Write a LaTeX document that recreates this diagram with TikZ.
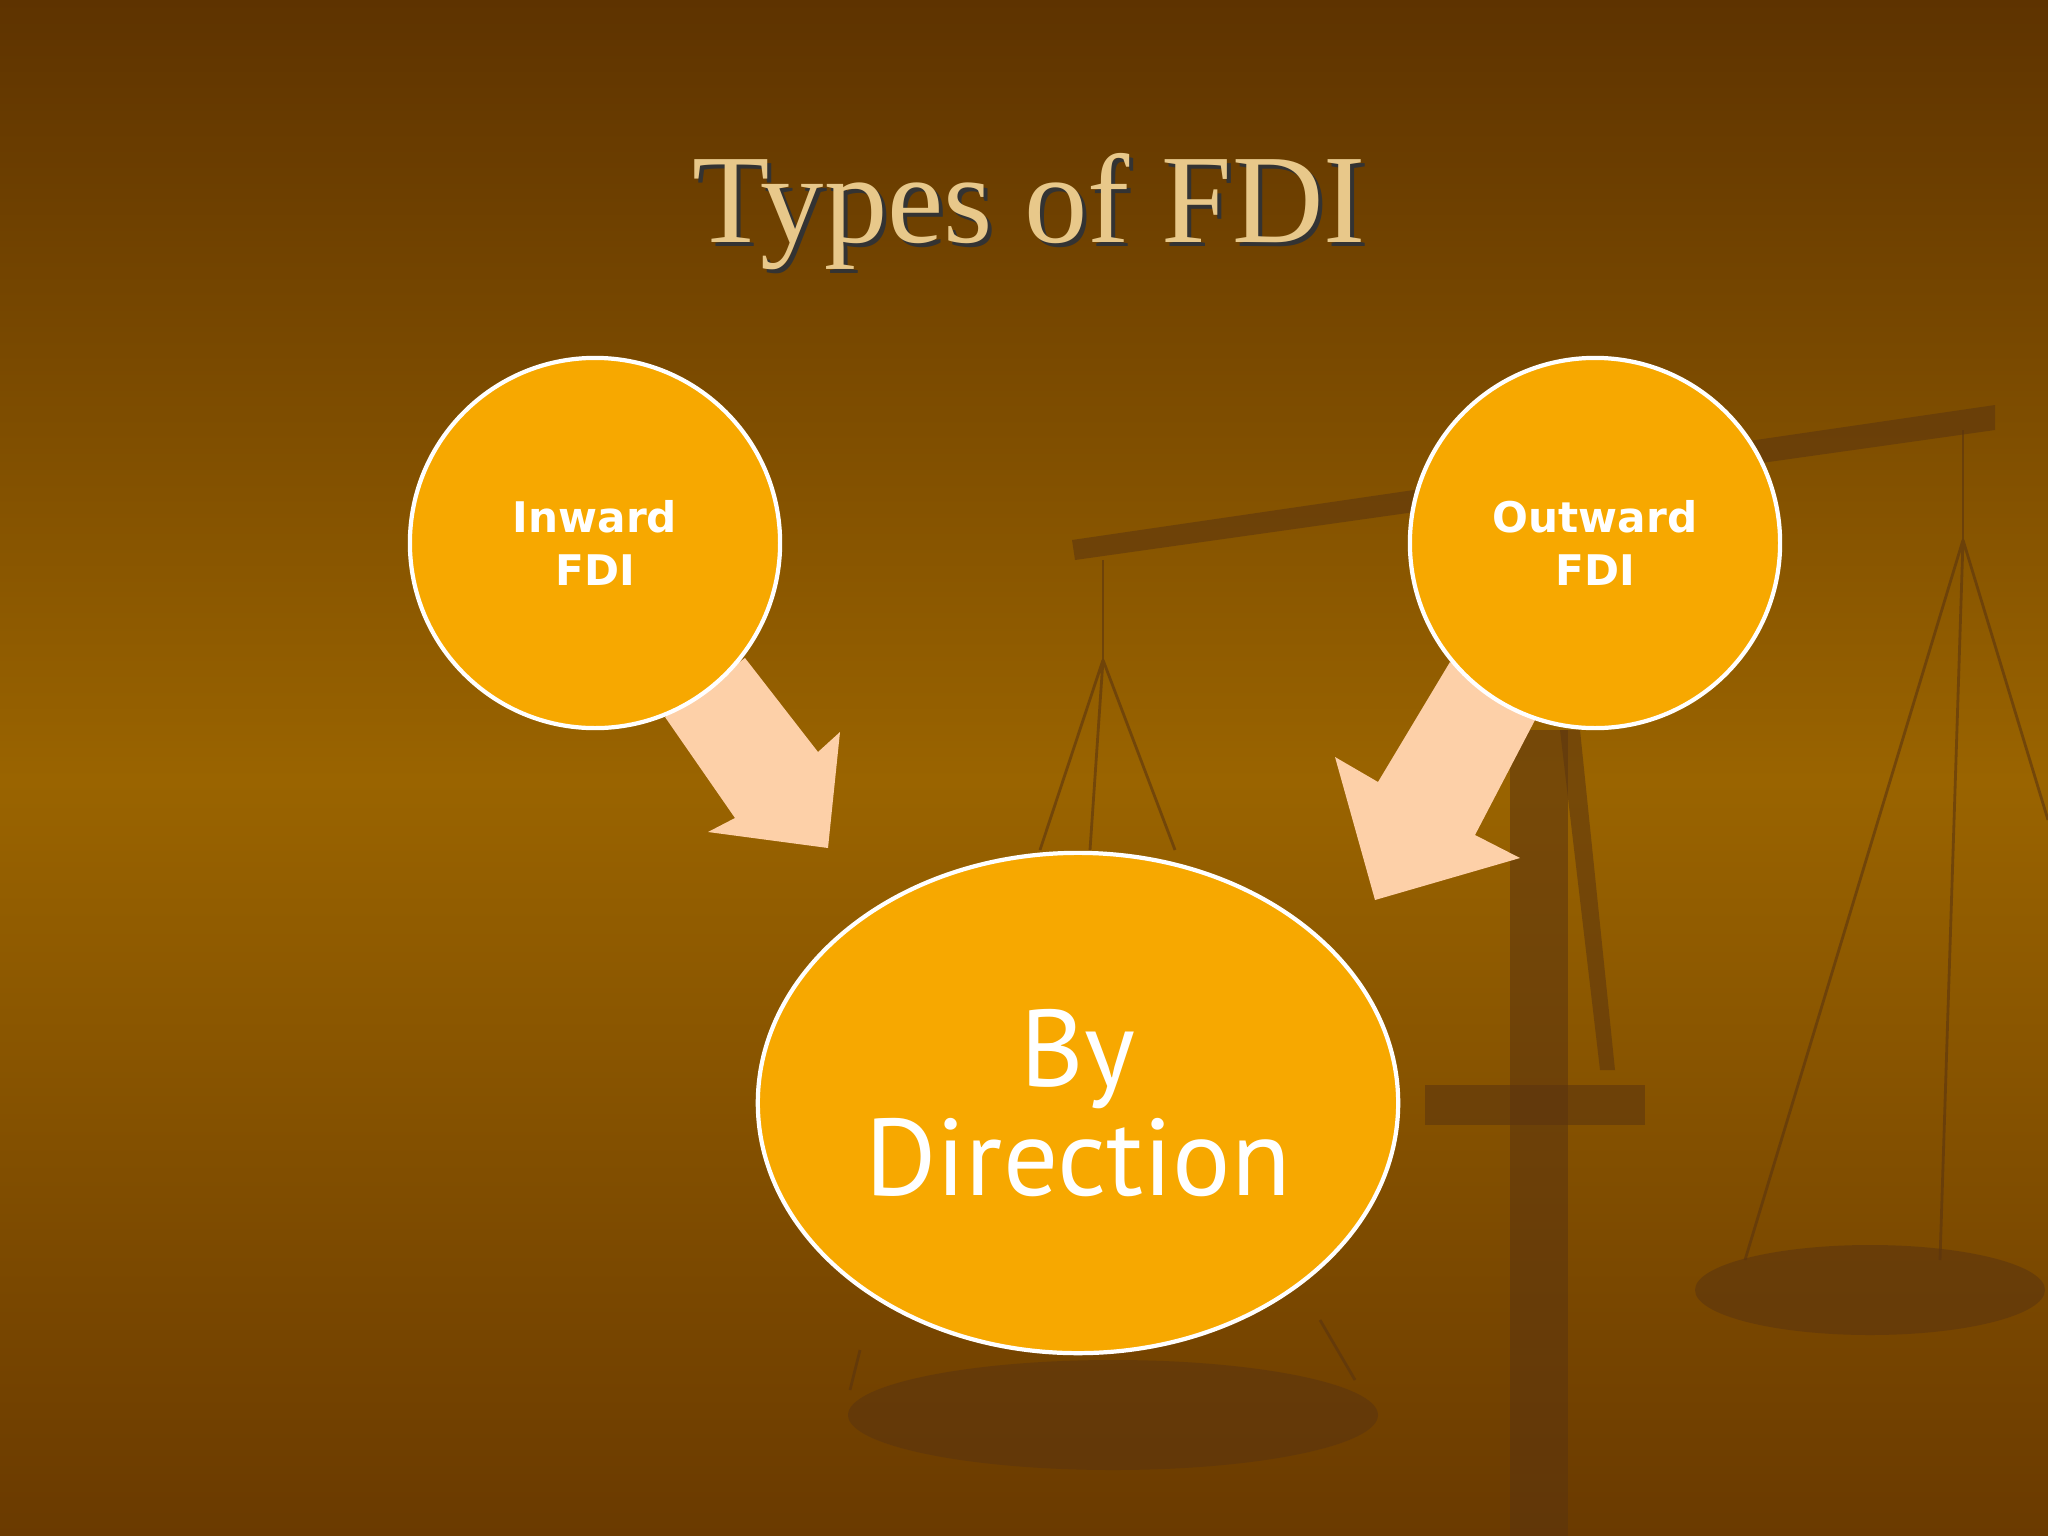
\documentclass[tikz,border=0pt]{standalone}
\usepackage{fontspec}
\usetikzlibrary{shapes.geometric}
\setmainfont{Liberation Serif}
\newfontfamily\vsans{PT Sans}
\newfontfamily\vbold{DejaVu Sans}
\definecolor{bgtop}{HTML}{5E3300}
\definecolor{bgmid}{HTML}{9A6400}
\definecolor{bgbot}{HTML}{6A3A00}
\definecolor{orb}{HTML}{F7A800}
\definecolor{peach}{HTML}{FDD0A8}
\definecolor{titlec}{HTML}{E8C88A}
\definecolor{wood}{HTML}{5A3410}
\tikzset{orbnode/.style={draw=white,line width=1.2pt,fill=orb,text=white,align=center},
 arrowshape/.style={fill=peach},
 scalepart/.style={fill=wood,opacity=0.55},
 scaleline/.style={draw=wood,opacity=0.6,line width=0.8pt}}
\begin{document}
\begin{tikzpicture}[x=0.01cm,y=-0.01cm]
\useasboundingbox (0,0) rectangle (2048,1536);
\shade[top color=bgtop,bottom color=bgmid] (0,0) rectangle (2048,780);
\shade[top color=bgmid,bottom color=bgbot] (0,780) rectangle (2048,1536);
% scale
\fill[scalepart] (1072,540) -- (1995,405) -- (1995,430) -- (1075,560) -- cycle;
\fill[scalepart] (1510,730) rectangle (1568,1536);
\fill[scalepart] (1425,1085) rectangle (1645,1125);
\fill[scalepart] (1113,1415) ellipse (265 and 55);
\fill[scalepart] (1870,1290) ellipse (175 and 45);
\draw[scaleline] (1103,560) -- (1103,660);
\draw[scaleline] (1103,660) -- (1040,850) (1103,660) -- (1090,850) (1103,660) -- (1175,850);
\draw[scaleline] (1963,430) -- (1963,540);
\draw[scaleline] (1963,540) -- (1745,1260) (1963,540) -- (1940,1260) (1963,540) -- (2048,820);
\draw[scaleline] (860,1350) -- (850,1390) (1320,1320) -- (1355,1380);
\fill[scalepart] (1560,730) -- (1580,730) -- (1615,1070) -- (1600,1070) -- cycle;
% title
\node[text=black!80,font=\fontsize{36}{42}\selectfont] (tsh) at (1033,216) {Types of FDI};
\node[text=titlec,font=\fontsize{36}{42}\selectfont] (title) at (1029,212) {Types of FDI};
% arrows
\fill[arrowshape] (665,717) -- (745,658) -- (818,752) -- (840,732) -- (828,848) -- (708,832) -- (735,818) -- cycle;
\fill[arrowshape] (1450,662) -- (1535,720) -- (1475,835) -- (1520,858) -- (1375,900) -- (1335,757) -- (1378,782) -- cycle;
% nodes
\node[orbnode,circle,minimum size=3.7cm,font=\vbold\bfseries\fontsize{12}{15}\selectfont] (in) at (595,543) {Inward\\FDI};
\node[orbnode,circle,minimum size=3.7cm,font=\vbold\bfseries\fontsize{12}{15}\selectfont] (out) at (1595,543) {Outward\\FDI};
\node[orbnode,ellipse,minimum width=6.4cm,minimum height=5cm,inner sep=0pt,font=\vsans\fontsize{31}{31}\selectfont] (dir) at (1078,1103) {By\\Direction};
\end{tikzpicture}
\end{document}
